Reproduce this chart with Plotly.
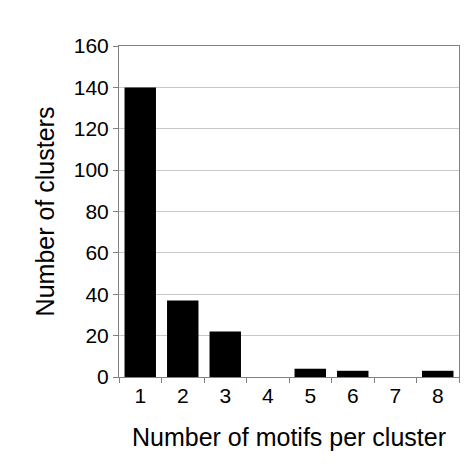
import plotly.graph_objects as go

categories = ["1", "2", "3", "4", "5", "6", "7", "8"]
counts = [140, 37, 22, 0, 4, 3, 0, 3]

fig = go.Figure(go.Bar(x=categories, y=counts, marker=dict(color="black", line=dict(width=0))))
font = dict(family="Liberation Sans, Arial", size=21, color="black")
fig.update_layout(
    width=474, height=474, margin=dict(l=111, r=23, t=38, b=105, autoexpand=False),
    plot_bgcolor="white", paper_bgcolor="white", font=font, bargap=0.26, showlegend=False,
)
fig.update_xaxes(type="category", showline=True, linecolor="#808080", mirror=True,
                 ticks="outside", tickson="boundaries", ticklen=5, tickcolor="#808080",
                 automargin=False, title=dict(text="Number of motifs per cluster", standoff=22))
fig.update_yaxes(range=[0, 160], dtick=20, showline=True, linecolor="#808080", mirror=True,
                 gridcolor="#c8c8c8", ticks="outside", ticklen=5, tickcolor="#808080",
                 automargin=False, zeroline=False, title=dict(text="Number of clusters", standoff=12))
fig.write_html("out.html")
